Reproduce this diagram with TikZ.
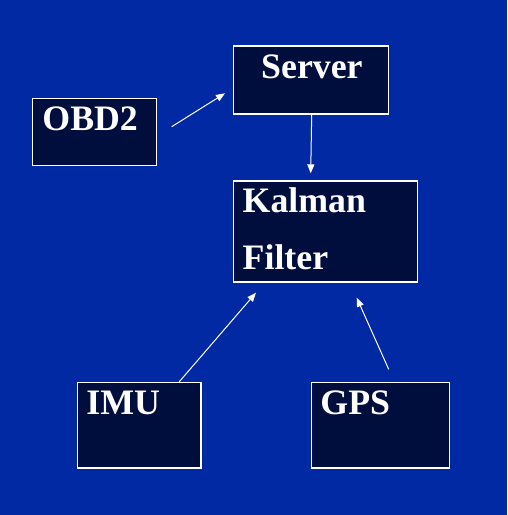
\documentclass[tikz,border=0pt]{standalone}
\usepackage{fontspec}
\setmainfont{Liberation Serif}
\usetikzlibrary{arrows.meta}

\definecolor{slidebg}{RGB}{0,41,163}
\definecolor{boxfill}{RGB}{0,14,62}

\tikzset{
    unit/.style={draw=white, line width=1.2pt, fill=boxfill, inner sep=0pt},
    caption/.style={anchor=base west, inner sep=0pt, text=white,
        font=\fontsize{35.8}{42}\selectfont\bfseries},
    link/.style={draw=white, line width=1pt, -{Triangle[length=9pt,width=7pt]}}
}

\begin{document}
\begin{tikzpicture}[x=1pt, y=-1pt]
    \fill[slidebg] (0,0) rectangle (507,515);
    \useasboundingbox (0,0) rectangle (507,515);
    % boxes
    \node[unit, minimum width=155.4pt, minimum height=68pt] at (311,80) (server) {};
    \node[unit, minimum width=124.4pt, minimum height=67pt] at (94.5,131.8) (obd) {};
    \node[unit, minimum width=184pt, minimum height=101pt] at (325.4,231.5) (kalman) {};
    \node[unit, minimum width=123.7pt, minimum height=85.3pt] at (139.2,425.3) (imu) {};
    \node[unit, minimum width=138pt, minimum height=85.3pt] at (380.7,425.3) (gps) {};
    % texts
    \node[caption] at (261,78.5) (serverT) {Server};
    \node[caption] at (42.2,130) (obdT) {OBD2};
    \node[caption] at (242.5,212.5) (kalmanT) {Kalman};
    \node[caption] at (242.5,269.5) (filterT) {Filter};
    \node[caption] at (86.2,414.5) (imuT) {IMU};
    \node[caption] at (320.2,414.5) (gpsT) {GPS};
    % arrows
    \coordinate (obdOut) at (171.7,126.7);
    \coordinate (serverIn) at (225,93.3);
    \coordinate (serverOut) at (311.7,115);
    \coordinate (kalmanTop) at (310.7,173.3);
    \coordinate (imuOut) at (179.3,381.7);
    \coordinate (kalmanLeft) at (256,292.7);
    \coordinate (gpsOut) at (388.7,369.3);
    \coordinate (kalmanRight) at (356.7,297.7);
    \draw[link] (obdOut) -- (serverIn);
    \draw[link] (serverOut) -- (kalmanTop);
    \draw[link] (imuOut) -- (kalmanLeft);
    \draw[link] (gpsOut) -- (kalmanRight);
\end{tikzpicture}
\end{document}
